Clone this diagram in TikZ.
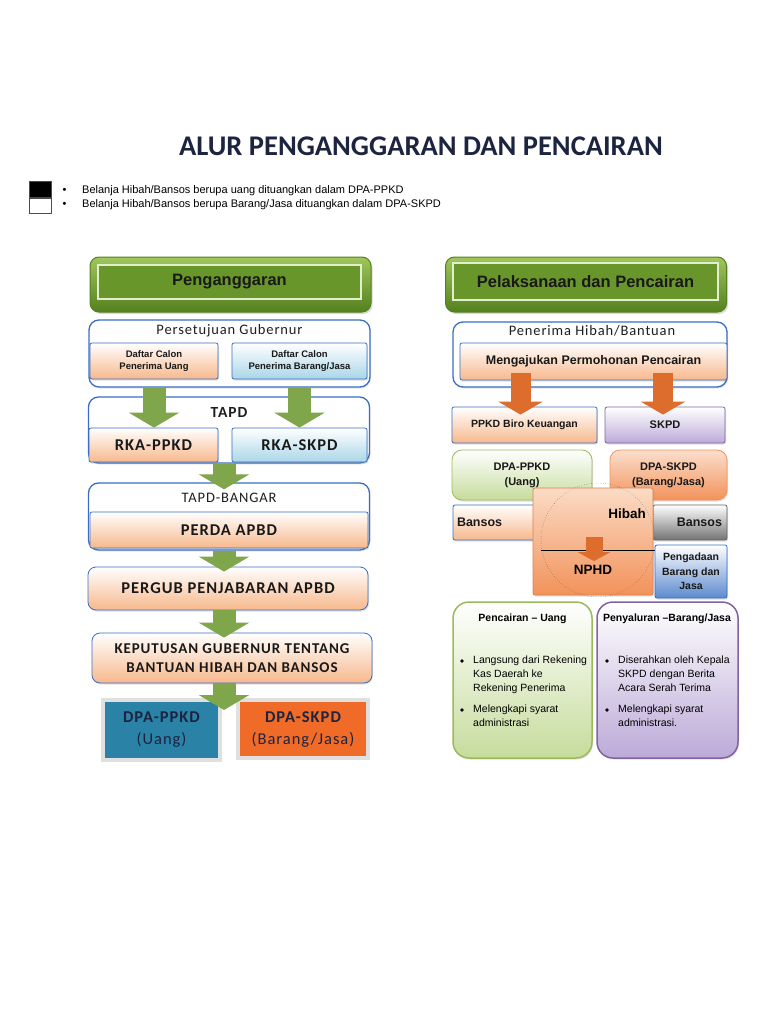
\documentclass[tikz,border=0pt]{standalone}
\usepackage{fontspec}
\setmainfont{Liberation Sans}
\newfontfamily\calibfont{Carlito}[LetterSpace=6]
\newfontfamily\titlefont{Carlito}
\usetikzlibrary{arrows.meta,positioning,shadows}
\newcommand{\fsz}[2]{\fontsize{#1}{#2}\selectfont}
\definecolor{navy}{RGB}{28,36,64}
\definecolor{leafdark}{RGB}{84,128,30}
\definecolor{leaf}{RGB}{104,150,42}
\definecolor{leaflight}{RGB}{160,198,92}
\definecolor{frameblue}{RGB}{58,110,196}
\definecolor{peach}{RGB}{247,184,140}
\definecolor{sky}{RGB}{170,214,232}
\definecolor{tealbox}{RGB}{42,130,166}
\definecolor{flame}{RGB}{240,106,40}
\definecolor{rust}{RGB}{190,60,26}
\definecolor{amber}{RGB}{246,150,60}
\definecolor{sage}{RGB}{155,187,89}
\definecolor{sagefill}{RGB}{198,220,156}
\definecolor{plum}{RGB}{128,100,162}
\definecolor{lilac}{RGB}{188,170,216}
\definecolor{coral}{RGB}{242,146,90}
\definecolor{steel}{RGB}{92,138,206}
\tikzset{
  hdrouter/.style={draw=leafdark, line width=1pt, rounded corners=9pt, top color=leaflight,
              bottom color=leafdark, minimum width=281pt, minimum height=55pt, inner sep=0pt,
              drop shadow={shadow xshift=1.5pt, shadow yshift=-2pt, opacity=.3}},
  hdrinner/.style={draw=white!70!leaflight, line width=2pt, fill=leaf, minimum height=34pt,
              inner sep=0pt, font=\fsz{16.5}{18}\bfseries, text=black!90},
  group/.style={draw=frameblue, line width=1.3pt, rounded corners=10pt, fill=white,
              minimum width=281pt, inner sep=0pt,
              drop shadow={shadow xshift=1pt, shadow yshift=-1.5pt, opacity=.2}},
  grouplabel/.style={inner sep=0pt, font=\calibfont\fsz{14.5}{16}, text=black!88},
  cell/.style={draw=frameblue, line width=.8pt, rounded corners=2pt, inner sep=0pt, align=center,
              text=black!90, drop shadow={shadow xshift=1pt, shadow yshift=-1.5pt, opacity=.25}},
  peachcell/.style={cell, top color=white, bottom color=peach},
  skycell/.style={cell, top color=white, bottom color=sky},
  bigtext/.style={font=\calibfont\fsz{16.5}{18}\bfseries},
  dpabox/.style={draw=black!12, line width=4pt, inner sep=0pt, align=center, text=navy,
              font=\calibfont\fsz{16.5}{22},
              drop shadow={shadow xshift=2pt, shadow yshift=-2pt, opacity=.3}},
  roundcard/.style={cell, line width=1.5pt, rounded corners=16pt, minimum width=140pt, minimum height=156pt},
  cardtitle/.style={inner sep=0pt, font=\fsz{10.5}{12}\bfseries},
  itemtext/.style={anchor=north west, inner sep=0pt, align=left, font=\fsz{10.5}{13.6}},
  dot/.style={circle, fill=black, inner sep=0pt, minimum size=3.6pt},
  garrow/.style={-{Triangle[length=15pt,width=50pt]}, line width=23pt, leaf!85!white},
  oarrow/.style={-{Triangle[length=13pt,width=44pt]}, line width=20pt, amber!55!rust},
  smallarrow/.style={-{Triangle[length=9pt,width=32pt]}, line width=17pt, amber!55!rust},
}
\begin{document}
\begin{tikzpicture}[x=1pt, y=-1pt]
  \useasboundingbox (0,0) rectangle (768,1024);
  % title and key
  \node[font=\titlefont\fsz{28.5}{30}\bfseries, text=navy, inner sep=0pt] (title) at (421,146) {ALUR PENGANGGARAN DAN PENCAIRAN};
  \node[draw=black!70, fill=black, minimum width=22pt, minimum height=16pt, inner sep=0pt] (keyP) at (40.5,189.5) {};
  \node[draw=black!70, fill=white, minimum width=22pt, minimum height=15pt, inner sep=0pt, below=0pt of keyP] (keyS) {};
  \node[anchor=west, inner sep=0pt, font=\fsz{11}{13}] (legP) at (62.5,191) {\makebox[19.5pt][l]{\textbullet}Belanja Hibah/Bansos berupa uang dituangkan dalam DPA-PPKD};
  \node[anchor=west, inner sep=0pt, font=\fsz{11}{13}] (legS) at (62.5,205) {\makebox[19.5pt][l]{\textbullet}Belanja Hibah/Bansos berupa Barang/Jasa dituangkan dalam DPA-SKPD};

  % Penganggaran
  \node[hdrouter] (penggBg) at (230.5,284.5) {};
  \node[hdrinner, minimum width=263pt] (penggHdr) at (229.5,282) {Penganggaran};

  \node[group, minimum height=67pt] (setuju) at (229.5,353.5) {};
  \node[grouplabel] (setujuLbl) at (229.5,331) {Persetujuan Gubernur};
  \node[peachcell, minimum width=128pt, minimum height=36pt, font=\fsz{9.5}{12}\bfseries] (daftarU) at (154,361) {Daftar Calon\\Penerima Uang};
  \node[skycell, minimum width=135pt, minimum height=36pt, font=\fsz{9.5}{12}\bfseries] (daftarB) at (299.5,361) {Daftar Calon\\Penerima Barang/Jasa};

  \node[group, minimum height=66pt] (tapd) at (229,430) {};
  \node[grouplabel, font=\calibfont\fsz{15.5}{17}\bfseries] (tapdLbl) at (229,412) {TAPD};
  \node[peachcell, bigtext, minimum width=129pt, minimum height=34pt] (rkaP) at (153.5,445) {RKA-PPKD};
  \node[skycell, bigtext, minimum width=135pt, minimum height=34pt] (rkaS) at (299.5,445) {RKA-SKPD};

  \node[group, minimum height=67pt] (bangar) at (229,516.5) {};
  \node[grouplabel] (bangarLbl) at (229,498) {TAPD-BANGAR};
  \node[peachcell, bigtext, minimum width=278pt, minimum height=36pt] (perda) at (229,530) {PERDA APBD};

  \node[peachcell, bigtext, rounded corners=8pt, minimum width=280pt, minimum height=43pt] (pergub) at (228,588.5) {PERGUB PENJABARAN APBD};
  \node[peachcell, rounded corners=8pt, minimum width=280pt, minimum height=50pt, font=\calibfont\fsz{15}{19}\bfseries] (keputusan) at (232,658) {KEPUTUSAN GUBERNUR TENTANG\\BANTUAN HIBAH DAN BANSOS};

  \node[dpabox, fill=tealbox, minimum width=117pt, minimum height=60pt] (dpaP) at (161.5,730) {{\bfseries DPA-PPKD}\\(Uang)};
  \node[dpabox, fill=flame, minimum width=130pt, minimum height=58pt] (dpaS) at (303,729) {{\bfseries DPA-SKPD}\\(Barang/Jasa)};
  \coordinate (dpaTop) at (224,710);

  \draw[garrow] (daftarU |- setuju.south) -- (daftarU |- rkaP.north);
  \draw[garrow] (daftarB |- setuju.south) -- (daftarB |- rkaS.north);
  \draw[garrow] ([xshift=-5pt]tapd.south) -- ([xshift=-5pt,yshift=-7pt]bangar.north);
  \draw[garrow] ([xshift=-5pt]bangar.south) -- ([xshift=-4pt,yshift=-5pt]pergub.north);
  \draw[garrow] ([xshift=-4pt]pergub.south) -- ([xshift=-8pt,yshift=-5pt]keputusan.north);
  \draw[garrow] ([xshift=-8pt]keputusan.south) -- (dpaTop);

  % Pelaksanaan dan Pencairan
  \node[hdrouter] (pelakBg) at (586,284.5) {};
  \node[hdrinner, minimum width=265pt, minimum height=37pt] (pelakHdr) at (585.5,281.5) {Pelaksanaan dan Pencairan};

  \node[group, minimum width=274pt, minimum height=65pt] (penerima) at (590,354.5) {};
  \node[grouplabel] (penerimaLbl) at (592,331) {Penerima Hibah/Bantuan};
  \node[peachcell, minimum width=267pt, minimum height=37pt, font=\fsz{12.5}{14}\bfseries] (ajukan) at (593.5,361.5) {Mengajukan Permohonan Pencairan};

  \node[peachcell, minimum width=145pt, minimum height=36pt, font=\fsz{10.5}{12}\bfseries] (ppkd) at (524.5,425) {PPKD Biro Keuangan};
  \node[cell, draw=plum, top color=white, bottom color=lilac, minimum width=120pt, minimum height=36pt, font=\fsz{11}{12}\bfseries] (skpd) at (665,425) {SKPD};
  \draw[oarrow] ([xshift=-4pt,yshift=7pt]ppkd.north |- ajukan.south) -- ([xshift=-4pt,yshift=-8pt]ppkd.north);
  \draw[oarrow] ([xshift=-2pt,yshift=7pt]skpd.north |- ajukan.south) -- ([xshift=-2pt,yshift=-8pt]skpd.north);

  \node[cell, draw=sage, rounded corners=10pt, top color=white, bottom color=sagefill, minimum width=140pt, minimum height=50pt, font=\fsz{11}{15}\bfseries] (dpaU) at (522,475) {DPA-PPKD\\(Uang)};
  \node[cell, draw=coral, rounded corners=10pt, top color=white!70!coral, bottom color=coral, minimum width=117pt, minimum height=50pt, font=\fsz{11}{15}\bfseries] (dpaB) at (668.5,475) {DPA-SKPD\\(Barang/Jasa)};

  \node[peachcell, minimum width=82pt, minimum height=35pt, inner sep=4pt, text width=74pt, align=left, font=\fsz{12.5}{14}\bfseries] (bansosL) at (494,522.5) {Bansos};
  \node[cell, draw=black!60, top color=white, bottom color=black!55, minimum width=74pt, minimum height=35pt, inner sep=5pt, text width=64pt, align=right, font=\fsz{12.5}{14}\bfseries] (bansosR) at (690,522.5) {Bansos};

  \node[cell, draw=coral!90!black, top color=peach!50!white, bottom color=coral, minimum width=120pt, minimum height=107pt] (hibahSq) at (593,541.5) {};
  \node[circle, draw=black!70, dotted, minimum size=114pt, inner sep=0pt] (ring) at (598,540) {};
  \draw[black, line width=1pt] ([yshift=-10pt]ring.west) -- ([yshift=-10pt]ring.east);
  \node[inner sep=0pt, font=\fsz{13.5}{15}\bfseries] (hibah) at (627,514) {Hibah};
  \node[inner sep=0pt, font=\fsz{13.5}{15}\bfseries] (nphd) at (593,570) {NPHD};
  \draw[smallarrow] ([xshift=1pt,yshift=3pt]nphd.north |- ring.center) -- ([xshift=1pt,yshift=4pt]nphd.north);

  \node[cell, top color=white, bottom color=steel, minimum width=72pt, minimum height=53pt, font=\fsz{10.5}{14.5}\bfseries] (pengadaan) at (691,571.5) {Pengadaan\\Barang dan\\Jasa};

  \node[roundcard, draw=sage, top color=white, bottom color=sagefill, minimum width=139pt] (cairU) at (522.5,680) {};
  \node[cardtitle] (cairUTtl) at (522.5,619) {Pencairan \textendash\ Uang};
  \node[dot] (cairU1dot) at (462,661) {};
  \node[itemtext] (cairU1) at (473,656) {Langsung dari Rekening\\Kas Daerah ke\\Rekening Penerima};
  \node[dot] (cairU2dot) at (462,710) {};
  \node[itemtext] (cairU2) at (473,705) {Melengkapi syarat\\administrasi};

  \node[roundcard, draw=plum, top color=white, bottom color=lilac, minimum width=141pt] (cairB) at (667.5,680) {};
  \node[cardtitle] (cairBTtl) at (667,619) {Penyaluran \textendash Barang/Jasa};
  \node[dot] (cairB1dot) at (607,661) {};
  \node[itemtext] (cairB1) at (618,656) {Diserahkan oleh Kepala\\SKPD dengan Berita\\Acara Serah Terima};
  \node[dot] (cairB2dot) at (607,710) {};
  \node[itemtext] (cairB2) at (618,705) {Melengkapi syarat\\administrasi.};
\end{tikzpicture}
\end{document}
